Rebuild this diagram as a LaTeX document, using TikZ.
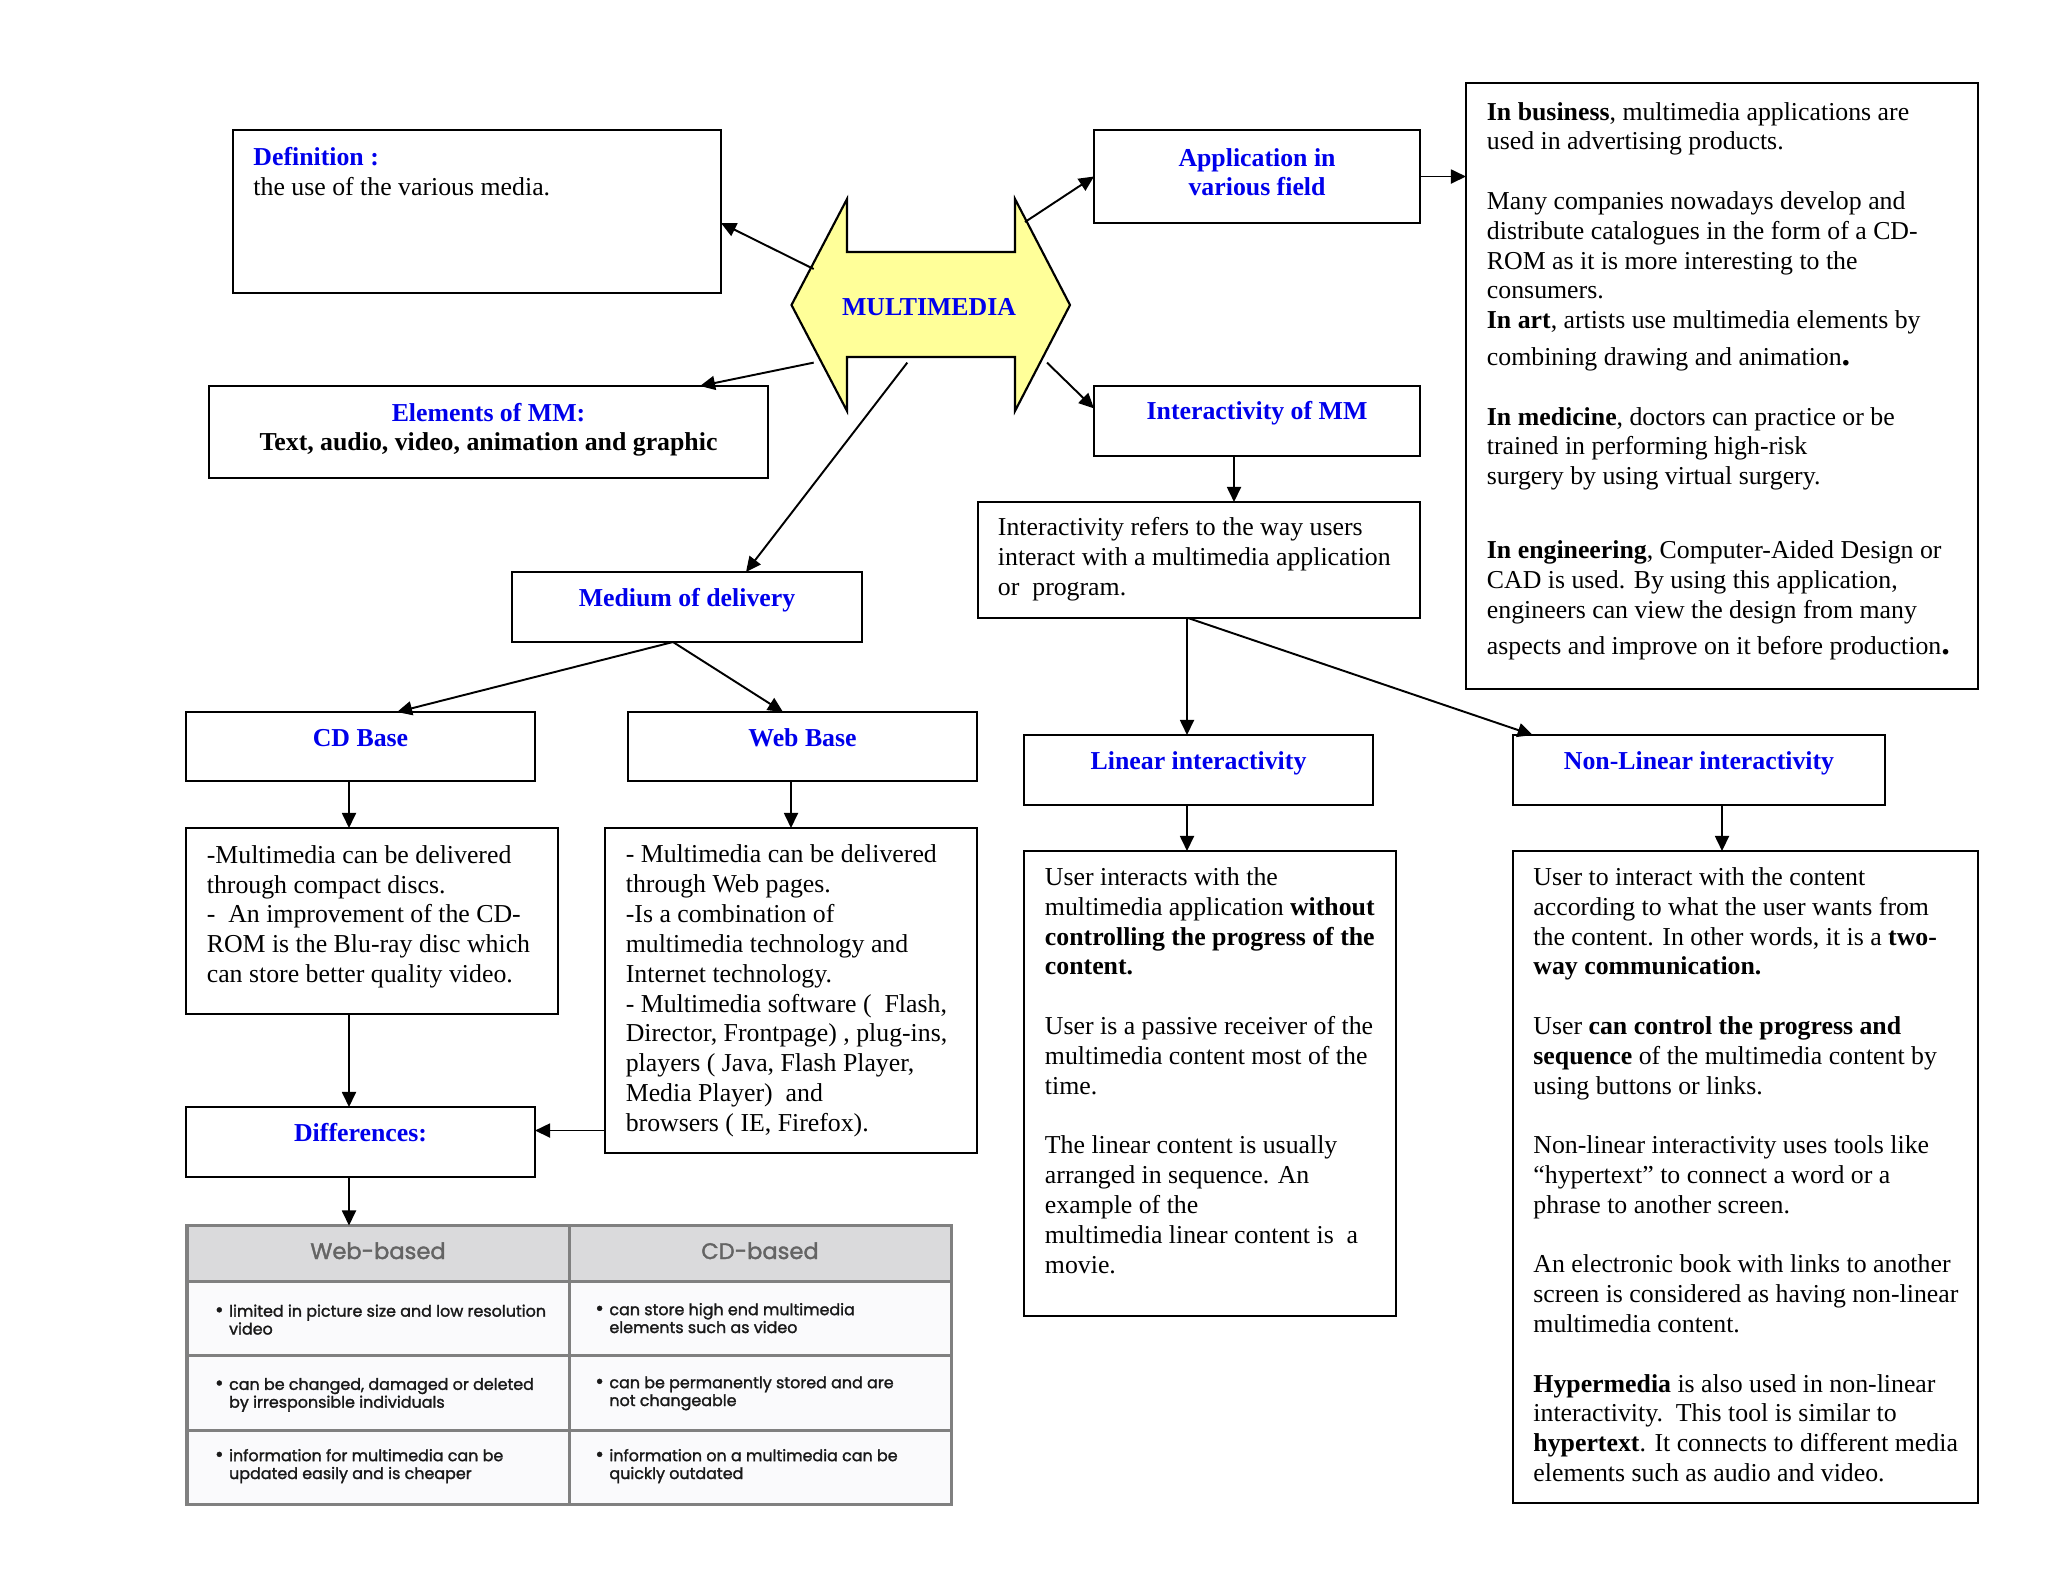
\documentclass[tikz,border=0pt]{standalone}
\usepackage{fontspec}
\setmainfont{Liberation Serif}
\newfontfamily\tabfont{Poppins}[FakeBold=1.6]
\usetikzlibrary{calc,arrows.meta}
\definecolor{mmyellow}{RGB}{255,255,153}
\definecolor{ttlblue}{RGB}{0,0,235}
\definecolor{tabgray}{RGB}{128,128,128}
\definecolor{tabhead}{RGB}{218,218,220}
\definecolor{tabbody}{RGB}{250,250,252}
\definecolor{tabhtxt}{RGB}{100,100,100}
\definecolor{tabtxt}{RGB}{25,25,25}
\newcommand\mkbox[5]{\node[box,minimum width={(#4-#2)*0.465pt},minimum height={(#5-#3)*0.465pt}] (#1) at ({(#2+#4)/2},{(#3+#5)/2}) {};}
\newcommand\cellbul{\llap{{\fontsize{9.5}{8}\selectfont •}\hspace{2.6pt}}}
\begin{document}
\begin{tikzpicture}[x=0.465pt,y=-0.465pt,
  font=\fontsize{12}{13.86}\selectfont,
  box/.style={draw,line width=1pt,inner sep=0pt,outer sep=0pt},
  arr/.style={line width=0.9pt,-{Triangle[length=7pt,width=6.5pt]}},
  ttl/.style={font=\fontsize{12}{13.86}\selectfont\bfseries,text=ttlblue,inner sep=0pt,anchor=base},
  body/.style={inner sep=0pt,anchor=base west,align=left},
  celltxt/.style={font=\tabfont\fontsize{7.4}{8.3}\selectfont,text=tabtxt,inner sep=0pt,anchor=base west,align=left},
  headtxt/.style={font=\tabfont\fontsize{10.5}{12}\selectfont,text=tabhtxt,inner sep=0pt,anchor=base}]
\useasboundingbox (0,0) rectangle (2048,1582);
\fill[white] (0,0) rectangle (2048,1582);

% boxes
\mkbox{def}{233}{130}{721}{293}
\mkbox{elem}{209}{386}{768}{478}
\mkbox{app}{1094}{130}{1420}{223}
\mkbox{fields}{1466}{83}{1978}{689}
\mkbox{inter}{1094}{386}{1420}{456}
\mkbox{refers}{978}{502}{1420}{618}
\mkbox{medium}{512}{572}{862}{642}
\mkbox{cd}{186}{712}{535}{781}
\mkbox{web}{628}{712}{977}{781}
\mkbox{cdtxt}{186}{828}{558}{1014}
\mkbox{webtxt}{605}{828}{977}{1153}
\mkbox{diff}{186}{1107}{535}{1177}
\mkbox{linear}{1024}{735}{1373}{805}
\mkbox{nonlin}{1513}{735}{1885}{805}
\mkbox{lintxt}{1024}{851}{1396}{1316}
\mkbox{nontxt}{1513}{851}{1978}{1503}

% central double arrow
\draw[fill=mmyellow,line width=1pt,line join=miter] (791.5,305) -- (847,199) -- (847,252) -- (1015,252) -- (1015,199) -- (1070,305) -- (1015,411) -- (1015,357) -- (847,357) -- (847,411) -- cycle;
\node[ttl] (mm) at (929,315) {MULTIMEDIA};

% titles
\node[ttl,anchor=base west] (defT) at (253,165) {Definition :};
\node[body] (defB) at (253,195) {the use of the various media.};
\node[ttl] (elemT) at (488.5,421) {Elements of MM:};
\node[ttl,text=black] (elemB) at (488.5,450) {Text, audio, video, animation and graphic};
\node[ttl] (appT1) at (1257,166) {Application in};
\node[ttl] (appT2) at (1257,195) {various field};
\node[ttl] (interT) at (1257,419) {Interactivity of MM};
\node[ttl] (medT) at (687,606) {Medium of delivery};
\node[ttl] (cdT) at (360.5,746) {CD Base};
\node[ttl] (webT) at (802.5,746) {Web Base};
\node[ttl] (linT) at (1198.5,769) {Linear interactivity};
\node[ttl] (nonT) at (1699,769) {Non-Linear interactivity};
\node[ttl] (diffT) at (360.5,1141.6) {Differences:};

% body texts (anchored at the baseline of their last line)
\node[body] (fieldsB) at (1486.5,654) {\textbf{In business}, multimedia applications are\\
used in advertising products.\\[13.86pt]
Many companies nowadays develop and\\
distribute catalogues in the form of a CD-\\
ROM as it is more interesting to the\\
consumers.\\
\textbf{In art}, artists use multimedia elements by\\[3.2pt]
combining drawing and animation{\fontsize{16}{13.86}\selectfont\bfseries .}\\[13.86pt]
\textbf{In medicine}, doctors can practice or be\\
trained in performing high-risk\\
surgery by using virtual surgery.\\[20.5pt]
\textbf{In engineering}, Computer-Aided Design or\\
CAD is used. By using this application,\\
engineers can view the design from many\\[2.8pt]
aspects and improve on it before production{\fontsize{16}{13.86}\selectfont\bfseries .}};

\node[body] (refersB) at (997.5,595) {Interactivity refers to the way users\\
interact with a multimedia application\\
or\ \ program.};

\node[body] (cdB) at (206.4,982.5) {-Multimedia can be delivered\\
through compact discs.\\
-\ \ An improvement of the CD-\\
ROM is the Blu-ray disc which\\
can store better quality video.};

\node[body] (webB) at (625.4,1131.2) {- Multimedia can be delivered\\
through Web pages.\\
-Is a combination of\\
multimedia technology and\\
Internet technology.\\
- Multimedia software (\ \ Flash,\\
Director, Frontpage) , plug-ins,\\
players ( Java, Flash Player,\\
Media Player)\ \ and\\
browsers ( IE, Firefox).};

\node[body] (linB) at (1044.5,1273) {User interacts with the\\
multimedia application \textbf{without}\\
\textbf{controlling the progress of the}\\
\textbf{content.}\\[13.86pt]
User is a passive receiver of the\\
multimedia content most of the\\
time.\\[13.86pt]
The linear content is usually\\
arranged in sequence. An\\
example of the\\
multimedia linear content is\ \ a\\
movie.};

\node[body] (nonB) at (1533,1481.5) {User to interact with the content\\
according to what the user wants from\\
the content. In other words, it is a \textbf{two-}\\
\textbf{way communication.}\\[13.86pt]
User \textbf{can control the progress and}\\
\textbf{sequence} of the multimedia content by\\
using buttons or links.\\[13.86pt]
Non-linear interactivity uses tools like\\
“hypertext” to connect a word or a\\
phrase to another screen.\\[13.86pt]
An electronic book with links to another\\
screen is considered as having non-linear\\
multimedia content.\\[13.86pt]
\textbf{Hypermedia} is also used in non-linear\\
interactivity.\ \ This tool is similar to\\
\textbf{hypertext}. It connects to different media\\
elements such as audio and video.};

% table
\node[inner sep=0pt,outer sep=0pt,fill=tabbody,minimum width={764*0.465pt},minimum height={279.1*0.465pt}] (tbl) at (569,1365.05) {};
\fill[tabhead] (187,1225.5) rectangle (951,1281);
\draw[tabgray,line width=1.4pt] (187,1281) -- (951,1281) (187,1355.7) -- (951,1355.7) (187,1430) -- (951,1430) (569,1225.5) -- (569,1504.6);
\draw[tabgray,line width=1.4pt] (tbl.north west) rectangle (tbl.south east);
\node[headtxt] (hweb) at (378,1259) {Web-based};
\node[headtxt] (hcd) at (760,1259) {CD-based};
\node[celltxt] (c11) at (228.7,1334.5) {\cellbul limited in picture size and low resolution\\video};
\node[celltxt] (c12) at (609,1333) {\cellbul can store high end multimedia\\elements such as video};
\node[celltxt] (c21) at (228.7,1407.7) {\cellbul can be changed, damaged or deleted\\by irresponsible individuals};
\node[celltxt] (c22) at (609,1406) {\cellbul can be permanently stored and are\\not changeable};
\node[celltxt] (c31) at (228.7,1479) {\cellbul information for multimedia can be\\updated easily and is cheaper};
\node[celltxt] (c32) at (609,1479) {\cellbul information on a multimedia can be\\quickly outdated};

% connectors
\coordinate (m1) at (813.7,269);
\coordinate (m2) at (1025,222);
\coordinate (m3) at (813.7,362.6);
\coordinate (m4) at (907.3,362.6);
\coordinate (m5) at (1047,362.6);
\draw[arr] (m1) -- ($(def.east)+(0,11.5)$);
\draw[arr] (m2) -- (app.west);
\draw[arr] (m3) -- ($(elem.north)+(211.5,0)$);
\draw[arr] (m4) -- ($(medium.north)+(59,0)$);
\draw[arr] (m5) -- ($(inter.west)+(0,-12.6)$);
\draw[arr] (app.east) -- (app.east -| fields.west);
\draw[arr] ($(inter.south)+(-23,0)$) coordinate (p1) -- (p1 |- refers.north);
\draw[arr] ($(medium.south)+(-14,0)$) -- ($(cd.north)+(36.5,0)$);
\draw[arr] ($(medium.south)+(-14,0)$) -- ($(web.north)+(-19.5,0)$);
\draw[arr] ($(cd.south)+(-11.5,0)$) coordinate (p2) -- (p2 |- cdtxt.north);
\draw[arr] ($(web.south)+(-11.5,0)$) coordinate (p3) -- (p3 |- webtxt.north);
\draw[arr] ($(cdtxt.south)+(-23,0)$) coordinate (p4) -- (p4 |- diff.north);
\draw[arr] ($(diff.east)+(0,-11.5)$) coordinate (p5) (webtxt.west |- p5) -- (p5);
\draw[arr] ($(diff.south)+(-11.5,0)$) coordinate (p6) -- (p6 |- tbl.north);
\draw[arr] ($(refers.south)+(-12,0)$) coordinate (p7) -- (p7 |- linear.north);
\draw[arr] ($(refers.south)+(-11,0)$) -- ($(nonlin.north)+(-166.3,0)$);
\draw[arr] ($(linear.south)+(-11.5,0)$) coordinate (p8) -- (p8 |- lintxt.north);
\draw[arr] ($(nonlin.south)+(23,0)$) coordinate (p9) -- (p9 |- nontxt.north);
\end{tikzpicture}
\end{document}
